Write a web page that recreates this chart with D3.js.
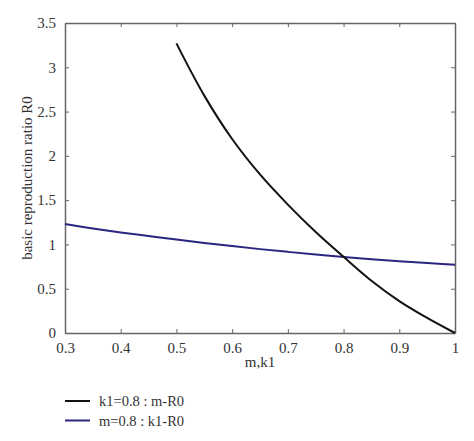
<!DOCTYPE html>
<html>
<head>
<meta charset="utf-8">
<script src="https://cdn.jsdelivr.net/npm/d3@7"></script>
<style>
  body { margin: 0; background: #fff; }
  svg text { font-family: "Liberation Serif", "Times New Roman", Times, "DejaVu Serif", serif; fill: #333; }
</style>
</head>
<body>
<div id="viz"></div>
<script>
// m-R0 curve, k1 = 0.8
const mVals = [0.5, 0.55, 0.6, 0.65, 0.7, 0.75, 0.8, 0.85, 0.9, 0.95, 1.0];
const mR0 = [3.27, 2.68, 2.19, 1.79, 1.45, 1.14, 0.86, 0.59, 0.36, 0.17, 0.0];

// k1-R0 curve, m = 0.8
const k1Vals = [0.3, 0.35, 0.4, 0.45, 0.5, 0.55, 0.6, 0.65, 0.7, 0.75, 0.8, 0.85, 0.9, 0.95, 1.0];
const k1R0 = [1.23, 1.18, 1.135, 1.095, 1.055, 1.017, 0.981, 0.947, 0.916, 0.886, 0.858, 0.833, 0.81, 0.789, 0.77];

const xTicks = [0.3, 0.4, 0.5, 0.6, 0.7, 0.8, 0.9, 1];
const yTicks = [0, 0.5, 1, 1.5, 2, 2.5, 3, 3.5];

const seriesNames = ['k1=0.8 : m-R0', 'm=0.8 : k1-R0'];
const seriesColors = ['#111111', '#2a2580'];

const W = 474, H = 441;
const plot = { left: 65, right: 455, top: 23, bottom: 333 };
const serif = '"Liberation Serif", "Times New Roman", Times, serif';

const svg = d3.select('#viz').append('svg')
  .attr('width', W)
  .attr('height', H);

const x = d3.scaleLinear().domain([0.3, 1]).range([plot.left, plot.right]);
const y = d3.scaleLinear().domain([0, 3.5]).range([plot.bottom, plot.top]);

const axisColor = '#666';
const fmt = d => String(d);

// bottom axis
const gx = svg.append('g').attr('transform', `translate(0,${plot.bottom})`)
  .call(d3.axisBottom(x).tickValues(xTicks).tickFormat(fmt).tickSizeInner(-4).tickSizeOuter(0).tickPadding(9));
// left axis
const gy = svg.append('g').attr('transform', `translate(${plot.left},0)`)
  .call(d3.axisLeft(y).tickValues(yTicks).tickFormat(fmt).tickSizeInner(-4).tickSizeOuter(0).tickPadding(9));
// top / right mirror ticks
const gt = svg.append('g').attr('transform', `translate(0,${plot.top})`)
  .call(d3.axisTop(x).tickValues(xTicks).tickFormat('').tickSizeInner(-4).tickSizeOuter(0));
const gr = svg.append('g').attr('transform', `translate(${plot.right},0)`)
  .call(d3.axisRight(y).tickValues(yTicks).tickFormat('').tickSizeInner(-4).tickSizeOuter(0));

[gx, gy, gt, gr].forEach(g => {
  g.attr('font-family', serif);
  g.selectAll('.domain').attr('stroke', axisColor).attr('stroke-width', 1.5);
  g.selectAll('.tick line').attr('stroke', axisColor).attr('stroke-width', 1);
  g.selectAll('.tick text').attr('font-size', 15).attr('fill', '#333');
});

// curves
const line = d3.line().x(d => x(d[0])).y(d => y(d[1])).curve(d3.curveCatmullRom);

svg.append('path')
  .datum(k1Vals.map((v, i) => [v, k1R0[i]]))
  .attr('d', line)
  .attr('fill', 'none')
  .attr('stroke', seriesColors[1])
  .attr('stroke-width', 2);

svg.append('path')
  .datum(mVals.map((v, i) => [v, mR0[i]]))
  .attr('d', line)
  .attr('fill', 'none')
  .attr('stroke', seriesColors[0])
  .attr('stroke-width', 2);

// axis labels
svg.append('text')
  .attr('x', (plot.left + plot.right) / 2)
  .attr('y', 367)
  .attr('text-anchor', 'middle')
  .attr('font-size', 15)
  .text('m,k1');

svg.append('text')
  .attr('transform', `translate(32,${(plot.top + plot.bottom) / 2}) rotate(-90)`)
  .attr('text-anchor', 'middle')
  .attr('font-size', 15)
  .text('basic reproduction ratio R0');

// legend
const legend = svg.append('g');
seriesNames.forEach((name, i) => {
  const ly = 401 + i * 19.5;
  legend.append('line')
    .attr('x1', 65).attr('x2', 90)
    .attr('y1', ly).attr('y2', ly)
    .attr('stroke', seriesColors[i])
    .attr('stroke-width', 2);
  legend.append('text')
    .attr('x', 99)
    .attr('y', ly + 5)
    .attr('font-size', 14.5)
    .text(name);
});
</script>
</body>
</html>
